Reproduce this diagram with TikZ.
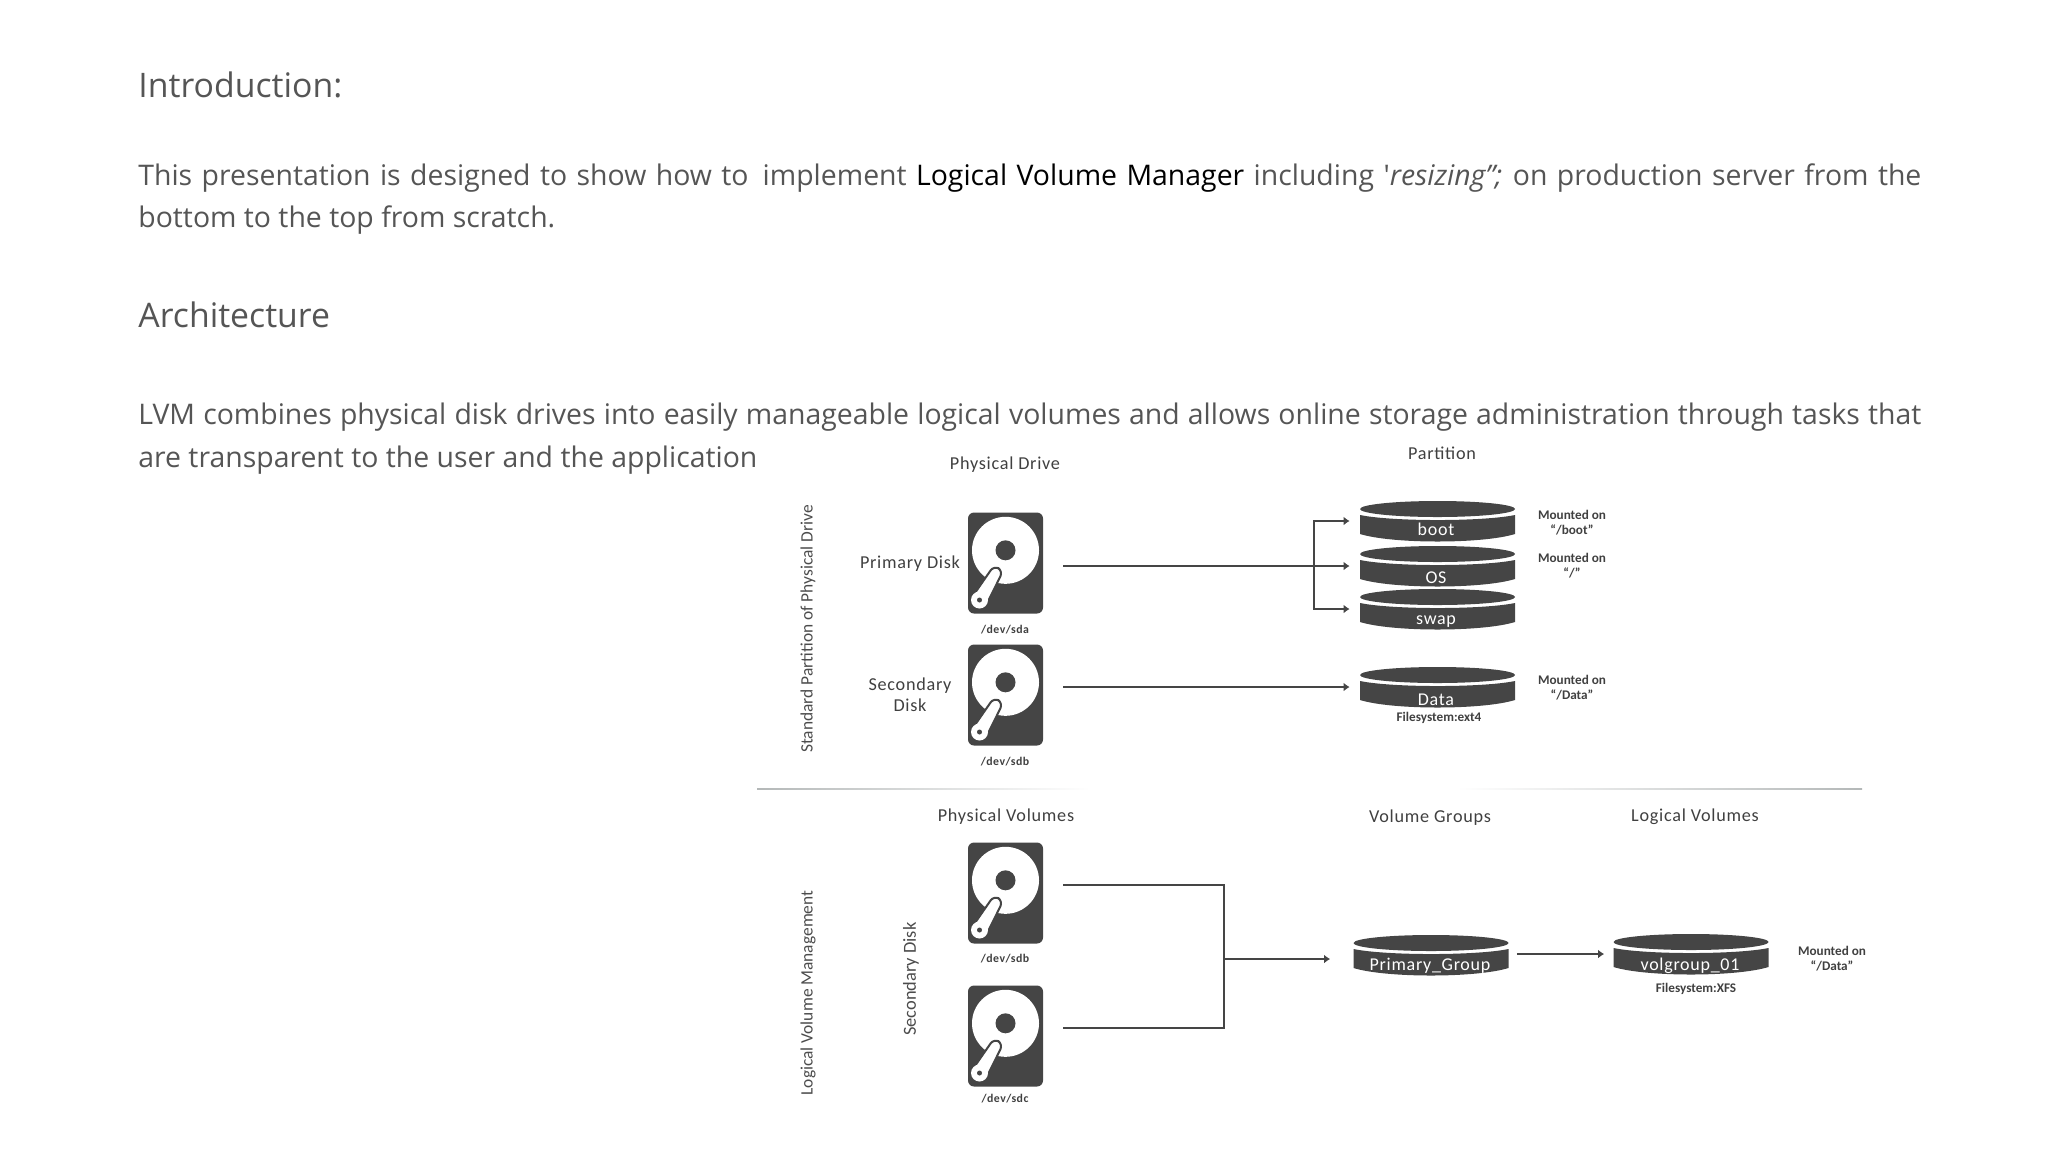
\documentclass[tikz,border=0pt]{standalone}
\usepackage{fontspec}
\usepackage{tikz}
\usetikzlibrary{arrows.meta}
\setmainfont{Open Sans}
\newfontfamily\labelfont[LetterSpace=4]{Carlito}
\newfontfamily\sidefont{Carlito}
\definecolor{diskgray}{HTML}{454545}
\definecolor{bodygray}{HTML}{555555}
\definecolor{rulegray}{HTML}{B4B8B8}
\tikzset{bodytext/.style={anchor=north west, inner sep=0pt, text width=891.5pt, align=justify, text=bodygray, font=\fontsize{14.2}{21.4}\selectfont}}
\tikzset{headtext/.style={anchor=west, inner sep=0pt, text=bodygray, font=\fontsize{16.9}{18}\selectfont}}
\tikzset{columnlabel/.style={inner sep=0pt, align=center, text=black!75, font=\labelfont\fontsize{9.1}{10.5}\selectfont}}
\tikzset{sidelabel/.style={inner sep=0pt, rotate=90, text=black!70, font=\sidefont\fontsize{#1}{10}\selectfont}}
\tikzset{sidelabel/.default=8.7}
\tikzset{devlabel/.style={inner sep=0pt, text=black!75, font=\labelfont\bfseries\fontsize{5.9}{7}\selectfont}}
\tikzset{mountlabel/.style={inner sep=0pt, align=center, text=black!75, font=\sidefont\bfseries\fontsize{6.6}{7.5}\selectfont}}
\tikzset{platterlabel/.style={inner sep=0pt, anchor=base, text=white, font=\labelfont\fontsize{9}{10}\selectfont}}
\tikzset{link/.style={draw=diskgray, line width=0.7pt}}
\tikzset{linkarrow/.style={link, -{Latex[length=3pt, width=4.4pt]}}}
\tikzset{disk/.style={rectangle, inner sep=0pt, minimum width=37.5pt, minimum height=50.5pt, rounded corners=3pt, fill=diskgray, path picture={
    \begin{scope}[shift={(path picture bounding box.center)}]
        \fill[white] (0, -12.7) circle [radius=33.5];
        \fill[diskgray] (0, -12.7) circle [radius=10];
        \draw[fill=white, draw=diskgray, line width=1pt] (-11.5, 2.5) -- (-2.5, 8) -- (-19, 41.5) -- (-33, 33.5) -- cycle;
        \fill[white] (-26, 37) circle [radius=8.5];
        \fill[diskgray] (-26, 37) circle [radius=2.5];
    \end{scope}}}}
\tikzset{platter/.style={rectangle, inner sep=0pt, minimum width=77.5pt, minimum height=20pt, path picture={
    \begin{scope}[shift={(path picture bounding box.center)}]
        \fill[diskgray] (0, -12) ellipse [x radius=77.5, y radius=8];
        \fill[diskgray] (-77.5, -6) .. controls (-45, 0.7) and (45, 0.7) .. (77.5, -6) -- (77.5, 13) .. controls (45, 23) and (-45, 23) .. (-77.5, 13) -- cycle;
    \end{scope}}}}

\begin{document}
\begin{tikzpicture}[x=0.5pt, y=-0.5pt]
    \useasboundingbox (0, 0) rectangle (2048, 1152);
    \node[headtext] (intro) at (138, 85) {Introduction:};
    \node[bodytext] (introbody) at (138, 163) {This presentation is designed to show how to\, implement {\color{black}Logical Volume Manager} including \textquotesingle\textit{resizing";} on production server from the\linebreak bottom to the top from scratch.};
    \node[headtext] (arch) at (138, 315) {Architecture};
    \node[bodytext] (archbody) at (138, 403) {LVM combines physical disk drives into easily manageable logical volumes and allows online storage administration through tasks that\linebreak are transparent to the user and the application};

    \fill[left color=rulegray, right color=white] (757, 788.3) rectangle (1090, 789.7);
    \fill[left color=white, right color=rulegray] (1457, 788.3) rectangle (1862, 789.7);

    \node[columnlabel] (physdrive) at (1005, 465) {Physical Drive};
    \node[columnlabel] (partition) at (1442, 453) {Partition};
    \node[columnlabel] (physvol) at (1006, 817) {Physical Volumes};
    \node[columnlabel] (volgroups) at (1430, 818) {Volume Groups};
    \node[columnlabel] (logvols) at (1695, 817) {Logical Volumes};
    \node[columnlabel] (primarydisk) at (910, 564) {Primary Disk};
    \node[columnlabel] (seconddisk) at (910, 695) {Secondary\\Disk};
    \node[sidelabel] (stdside) at (808, 629) {Standard Partition of Physical Drive};
    \node[sidelabel] (lvmside) at (808, 993) {Logical Volume Management};
    \node[sidelabel=9.2] (secondside) at (911, 979) {Secondary Disk};

    \foreach \n/\y/\off/\lab in {sda/563/67/sda, sdb/695/67/sdb, pvb/893/66/sdb, pvc/1036/63/sdc} {
        \node[disk] (\n) at (1005.5, \y) {};
        \node[devlabel] (\n-dev) at (1005, \y + \off) {/dev/\lab};
    }

    \foreach \n/\y/\off/\lab in {boot/521/14/boot, os/566/17/OS, swap/609/15/swap, data/687/18/Data} {
        \node[platter] (\n) at (1437.5, \y) {};
        \node[platterlabel] (\n-lab) at (1436, \y + \off) {\lab};
    }
    \node[platter] (pg) at (1431, 955) {};
    \node[platterlabel] (pg-lab) at (1430, 970) {Primary\_Group};
    \node[platter] (lv) at (1691, 954) {};
    \node[platterlabel] (lv-lab) at (1690, 970) {volgroup\_01};

    \node[mountlabel] (bootmount) at (1572, 523) {Mounted on\\“/boot”};
    \node[mountlabel] (osmount) at (1572, 566) {Mounted on\\“/”};
    \node[mountlabel] (datamount) at (1572, 688) {Mounted on\\“/Data”};
    \node[mountlabel] (lvmount) at (1832, 959) {Mounted on\\“/Data”};
    \node[mountlabel] (datafs) at (1439, 718) {Filesystem:ext4};
    \node[mountlabel] (lvfs) at (1696, 989) {Filesystem:XFS};

    \coordinate (sda-out) at (1063, 566);
    \coordinate (sdb-out) at (1063, 687);
    \coordinate (bus) at (1314, 566);
    \coordinate (pvb-out) at (1063, 885);
    \coordinate (pvc-out) at (1063, 1028);
    \coordinate (pvjoin) at (1224, 959);

    \draw[linkarrow, shorten >=5pt] (sda-out) -- (os);
    \draw[linkarrow, shorten >=5pt] (sdb-out) -- (data);
    \draw[linkarrow, shorten >=5pt] (bus) |- (boot);
    \draw[linkarrow, shorten >=5pt] (bus) |- (swap);
    \draw[link] (pvb-out) -| (pvjoin) |- (pvc-out);
    \draw[linkarrow, shorten >=11.5pt] (pvjoin) -- (pvjoin -| pg.west);
    \draw[linkarrow, shorten <=4pt, shorten >=4.5pt] (lv.west -| pg.east) -- (lv.west);
\end{tikzpicture}
\end{document}
